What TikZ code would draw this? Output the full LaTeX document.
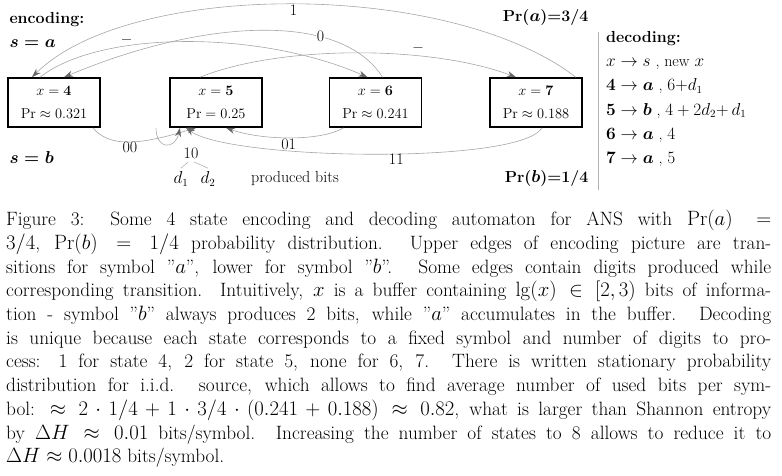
\documentclass[tikz,border=0pt]{standalone}
\usepackage{amsmath,amssymb}
\usetikzlibrary{arrows.meta}
\begin{document}
\begin{tikzpicture}[x=1pt,y=-1pt,
  st/.style={draw,line width=1.6pt,minimum width=92pt,minimum height=49pt,inner sep=0pt,align=center,font=\fontsize{15}{23}\selectfont},
  ed/.style={draw=black!35,line width=0.6pt,-{Stealth[length=9pt,width=6pt,color=black!60]}},
  lb/.style={font=\fontsize{16}{18}\selectfont},
  bl/.style={font=\fontsize{16}{18}\selectfont\bfseries}]
\useasboundingbox (0,0) rectangle (782,475);
\node[st] (b4) at (54,102.5) {$x=\mathbf{4}$\\ $\Pr\approx0.321$};
\node[st] (b5) at (216,102.5) {$x=\mathbf{5}$\\ $\Pr=0.25$};
\node[st] (b6) at (375.5,102.5) {$x=\mathbf{6}$\\ $\Pr\approx0.241$};
\node[st] (b7) at (536,102.5) {$x=\mathbf{7}$\\ $\Pr\approx0.188$};
\node[bl,anchor=west] (enc) at (6,20) {encoding:};
\node[bl,anchor=west] (sa) at (6,44) {$\boldsymbol{s=a}$};
\node[bl,anchor=west] (sb) at (6,157) {$\boldsymbol{s=b}$};
\node[bl,anchor=east] (pa) at (592,18) {Pr($\boldsymbol{a}$)=3/4};
\node[bl,anchor=east] (pb) at (592,179) {Pr($\boldsymbol{b}$)=1/4};
% upper edges
\coordinate (s7) at ([xshift=-7pt]b7.north east);
\coordinate (e74) at ([xshift=-22pt]b4.north);
\draw[ed] (s7) .. controls (450,-20) and (130,-20) .. (e74) node[lb,pos=0.5,below=-1pt,fill=white,inner sep=1pt] (l1) {1};
\coordinate (s6) at ([xshift=7pt]b6.north);
\coordinate (e64) at ([xshift=10pt]b4.north);
\draw[ed] (s6) .. controls (340,10) and (200,20) .. (e64) node[lb,pos=0.3,fill=white,inner sep=1pt] (l0) {0};
\coordinate (s4) at ([xshift=-14pt]b4.north);
\coordinate (e46) at ([xshift=-8pt]b6.north);
\draw[ed] (s4) .. controls (100,30) and (260,30) .. (e46) node[lb,pos=0.33,above=-2pt] (lm1) {\textbf{--}};
\coordinate (s5) at ([xshift=-16pt]b5.north);
\coordinate (e57) at ([xshift=-20pt]b7.north);
\draw[ed] (s5) .. controls (280,45) and (430,45) .. (e57) node[lb,pos=0.68,above=0pt] (lm2) {\textbf{--}};
% lower edges
\coordinate (s4b) at ([xshift=-8pt]b4.south east);
\coordinate (e45) at ([xshift=-20pt]b5.south);
\draw[ed] (s4b) .. controls (110,148) and (140,145) .. (e45) node[lb,pos=0.5,below=-4pt] (l00) {00};
\coordinate (s5b) at ([xshift=-60pt]b5.south);
\coordinate (e55) at ([xshift=-36pt]b5.south);
\draw[ed] (s5b) .. controls (156,150) and (175,150) .. (e55);
\coordinate (s6b) at ([xshift=-32pt]b6.south);
\coordinate (e65) at ([xshift=10pt]b5.south);
\draw[ed] (s6b) .. controls (320,142) and (260,140) .. (e65) node[lb,pos=0.5,below=-2pt] (l01) {01};
\coordinate (s7b) at ([xshift=6pt]b7.south);
\coordinate (e75) at ([xshift=-30pt]b5.south);
\draw[ed] (s7b) .. controls (520,165) and (230,160) .. (e75) node[lb,pos=0.45,below=-3pt] (l11) {11};
\node[lb] (l10) at (191,153) {10};
\node[lb] (d1) at (181,179) {$d_1$};
\node[lb] (d2) at (208,179) {$d_2$};
\draw[black!40,line width=0.4pt] (d1.north) -- ([xshift=-3pt]l10.south);
\draw[black!40,line width=0.4pt] (d2.north) -- ([xshift=3pt]l10.south);
\node[lb] (pbits) at (295,179) {produced bits};
% decoding
\draw[black!30,line width=0.8pt] (598,32) -- (598,190);
\node[anchor=north west,inner sep=0pt,align=left,font=\fontsize{16}{24.3}\selectfont] (dec) at (606,31) {%
\textbf{decoding:}\\
$x\rightarrow s$ , new $x$\\
$\mathbf{4}\rightarrow\boldsymbol{a}$ , $6{+}d_1$\\
$\mathbf{5}\rightarrow\boldsymbol{b}$ , $4+2d_2{+}\,d_1$\\
$\mathbf{6}\rightarrow\boldsymbol{a}$ , $4$\\
$\mathbf{7}\rightarrow\boldsymbol{a}$ , $5$};
% caption
\node[anchor=north west,inner sep=0pt,text width=765pt,align=justify,font=\fontsize{19.3}{23.7}\selectfont] (cap) at (6,210) {%
Figure 3: Some 4 state encoding and decoding automaton for ANS with $\Pr(a)=$\linebreak
$3/4$, $\Pr(b)=1/4$ probability distribution. Upper edges of encoding picture are tran-\linebreak
sitions for symbol \textquotedblright$a$\textquotedblright, lower for symbol \textquotedblright$b$\textquotedblright. Some edges contain digits produced while\linebreak
corresponding transition. Intuitively, $x$ is a buffer containing $\lg(x)\in[2,3)$ bits of informa-\linebreak
tion - symbol \textquotedblright$b$\textquotedblright\ always produces 2 bits, while \textquotedblright$a$\textquotedblright\ accumulates in the buffer. Decoding\linebreak
is unique because each state corresponds to a fixed symbol and number of digits to pro-\linebreak
cess: 1 for state 4, 2 for state 5, none for 6, 7. There is written stationary probability\linebreak
distribution for i.i.d. source, which allows to find average number of used bits per sym-\linebreak
bol: $\approx 2\cdot1/4+1\cdot3/4\cdot(0.241+0.188)\approx0.82$, what is larger than Shannon entropy\linebreak
by $\Delta H\approx0.01$ bits/symbol. Increasing the number of states to 8 allows to reduce it to\linebreak
$\Delta H\approx0.0018$ bits/symbol.\par};
\end{tikzpicture}
\end{document}
